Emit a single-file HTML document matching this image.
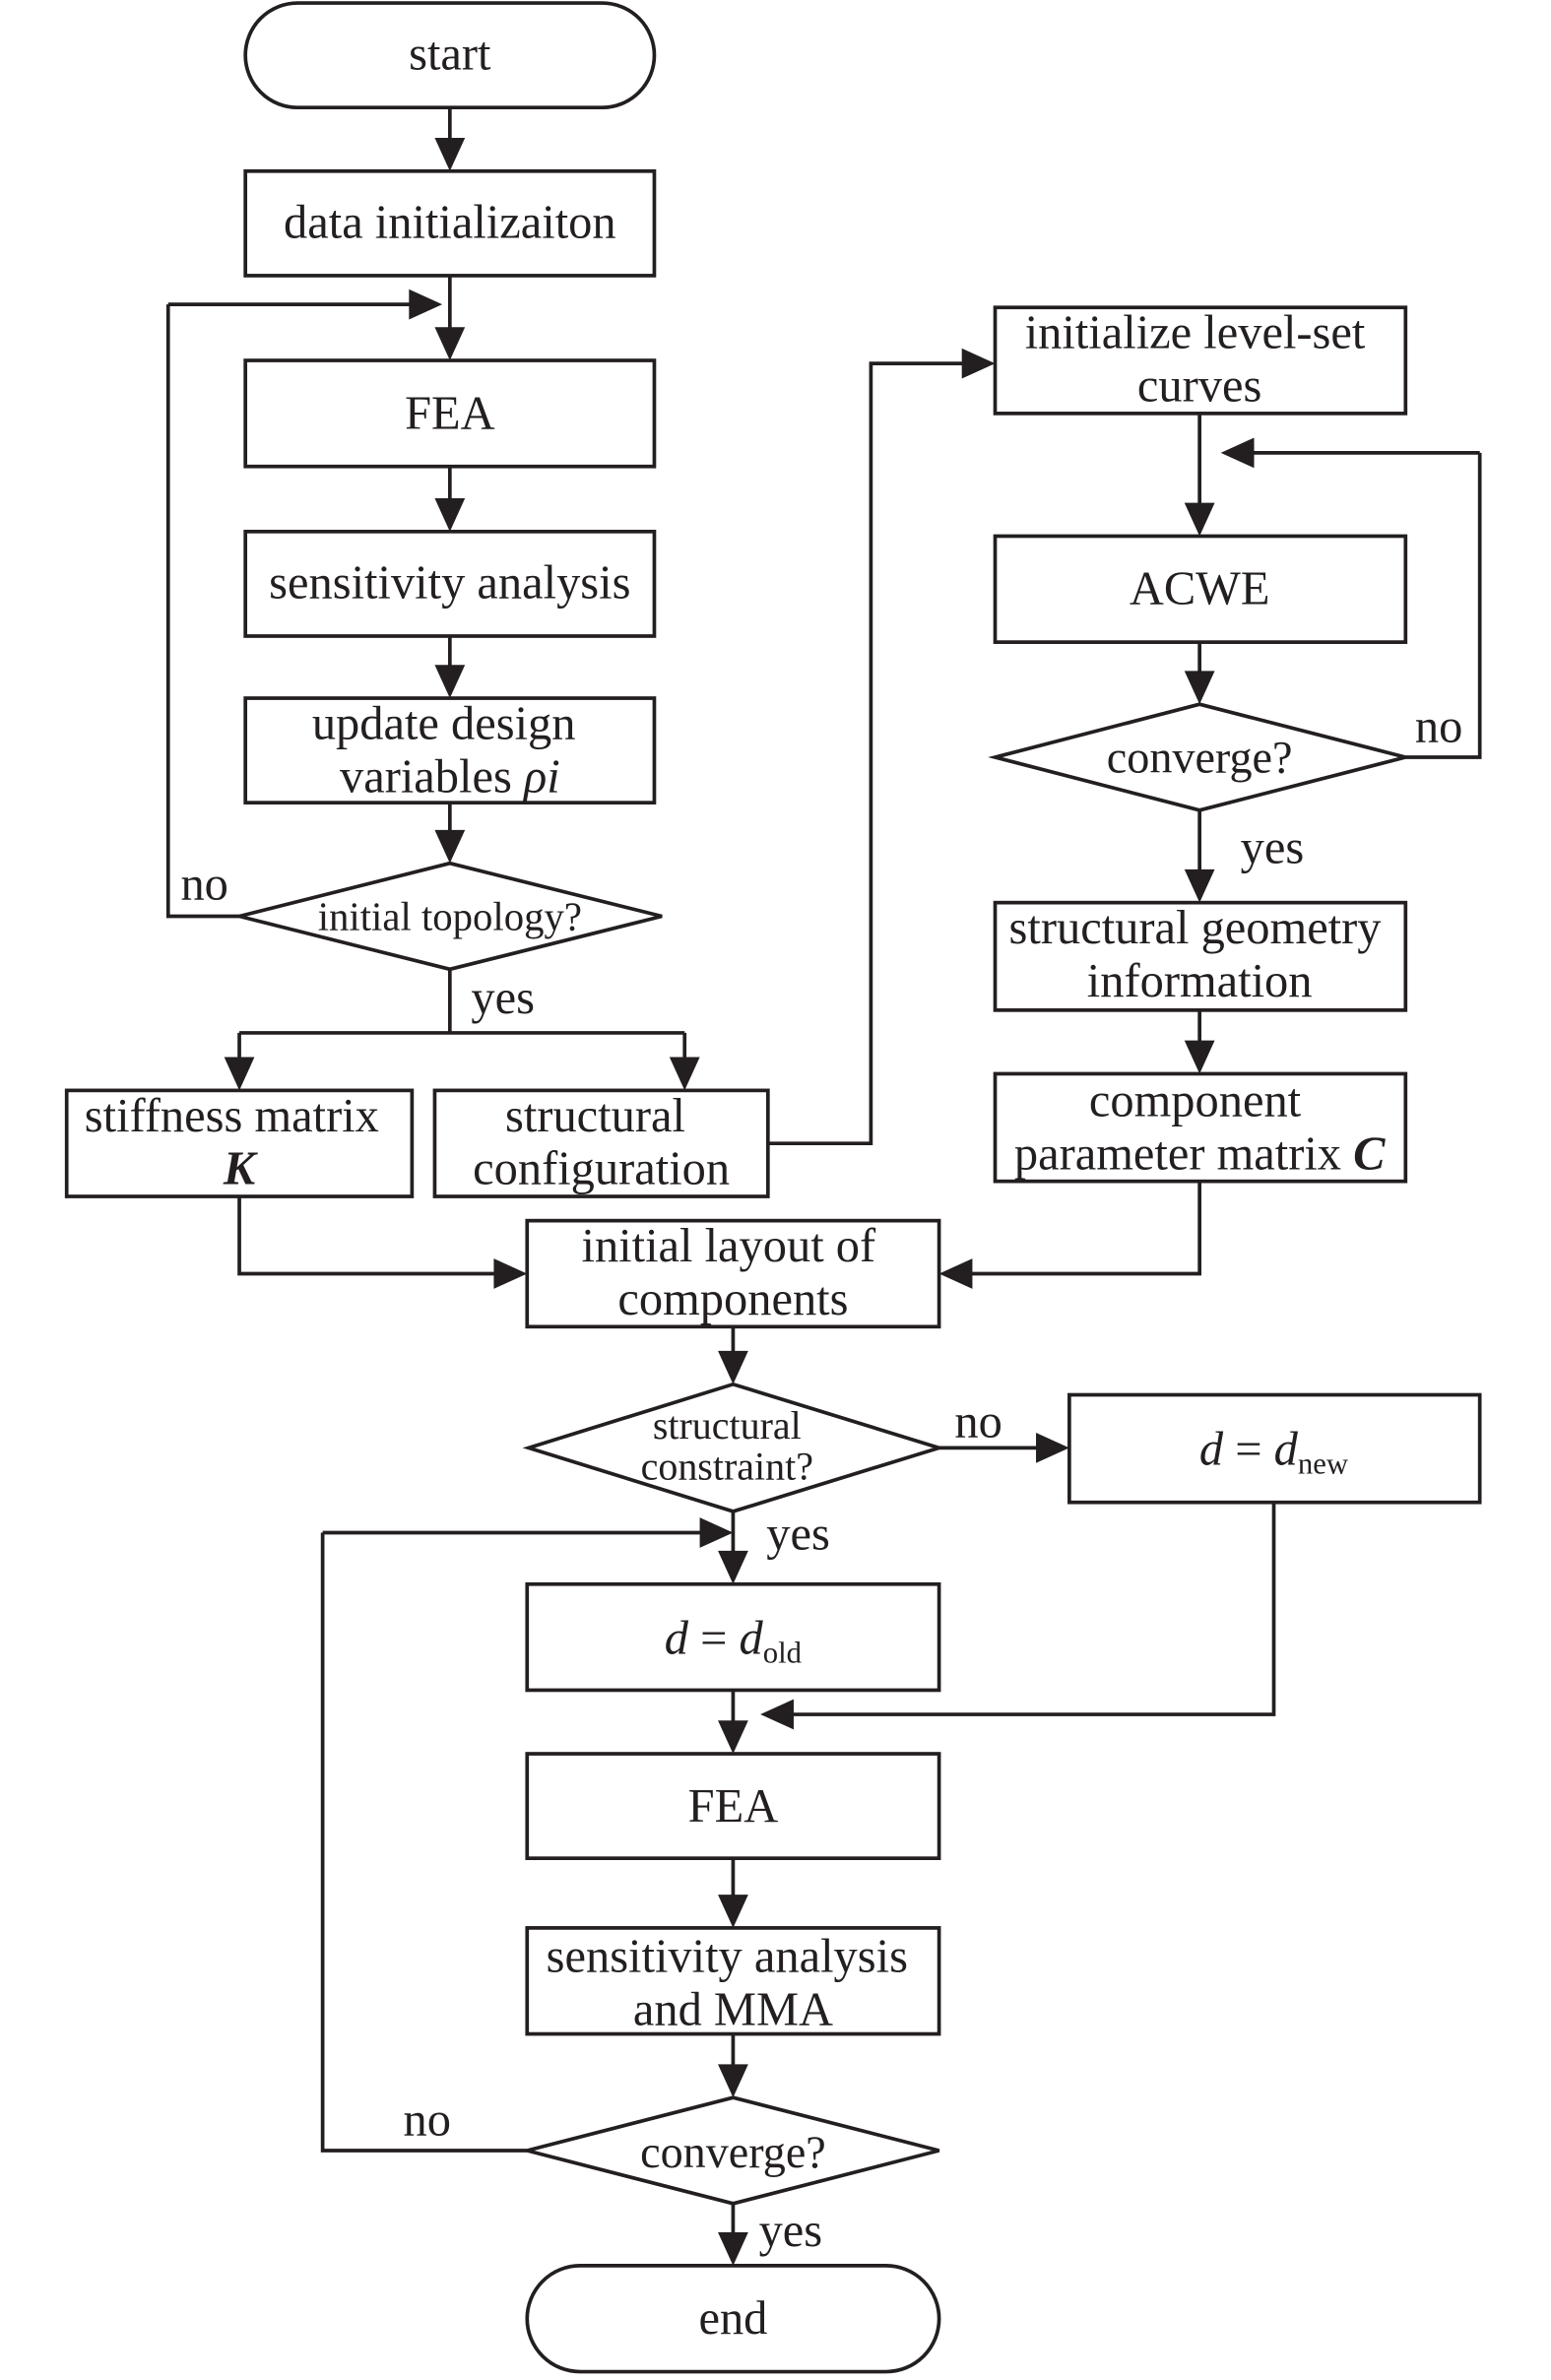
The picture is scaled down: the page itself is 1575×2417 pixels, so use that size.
<!DOCTYPE html>
<html><head><meta charset="utf-8"><style>
html,body{margin:0;padding:0;background:#fff;}
svg{display:block;}
text{font-family:"Liberation Serif",serif;fill:#231f20;text-anchor:middle;}
</style></head><body>
<svg width="1575" height="2417" viewBox="0 0 1024 1571.5" xmlns="http://www.w3.org/2000/svg">
<g fill="none" stroke="#231f20" stroke-width="2.4">
<rect x="162" y="2" width="270" height="69" rx="34.5"/>
<rect x="162" y="113" width="270" height="69"/>
<rect x="162" y="238" width="270" height="70"/>
<rect x="162" y="351" width="270" height="69"/>
<rect x="162" y="461" width="270" height="69"/>
<polygon points="158,605 297,570 437,605 297,640"/>
<rect x="44" y="720" width="228" height="70"/>
<rect x="287" y="720" width="220" height="70"/>
<rect x="657" y="203" width="271" height="70"/>
<rect x="657" y="354" width="271" height="70"/>
<polygon points="657,500 792,465 928,500 792,535"/>
<rect x="657" y="596" width="271" height="71"/>
<rect x="657" y="709" width="271" height="71"/>
<rect x="348" y="806" width="272" height="70"/>
<polygon points="349,956 484,914 620,956 484,998"/>
<rect x="706" y="921" width="271" height="71"/>
<rect x="348" y="1046" width="272" height="70"/>
<rect x="348" y="1158" width="272" height="69"/>
<rect x="348" y="1273" width="272" height="70"/>
<polygon points="348,1420 484,1385 620,1420 484,1455"/>
<rect x="348" y="1496" width="272" height="70" rx="35"/>
<path d="M297 71V100 M297 182V225 M111 201H275 M297 308V338 M297 420V448 M297 530V557"/>
<path d="M158 605H111V201"/>
<path d="M297 640V682 M158 682H452 M158 682V707 M452 682V707"/>
<path d="M507 755H575V240H644"/>
<path d="M792 273V341 M977 299H819 M792 424V452 M928 500H977V299 M792 535V583 M792 667V696"/>
<path d="M792 780V841H633 M158 790V841H335"/>
<path d="M484 876V901 M620 956H693 M484 998V1033 M213 1012H471 M213 1012V1420H348"/>
<path d="M484 1116V1145 M841 992V1132H515"/>
<path d="M484 1227V1260 M484 1343V1372 M484 1455V1483"/>
</g>
<g fill="#231f20">
<polygon points="287,91 307,91 297,113"/>
<polygon points="287,216 307,216 297,238"/>
<polygon points="270,191 270,211 292,201"/>
<polygon points="287,329 307,329 297,351"/>
<polygon points="287,439 307,439 297,461"/>
<polygon points="287,548 307,548 297,570"/>
<polygon points="148,698 168,698 158,720"/>
<polygon points="442,698 462,698 452,720"/>
<polygon points="635,230 635,250 657,240"/>
<polygon points="782,332 802,332 792,354"/>
<polygon points="806,299 828,289 828,309"/>
<polygon points="782,443 802,443 792,465"/>
<polygon points="782,574 802,574 792,596"/>
<polygon points="782,687 802,687 792,709"/>
<polygon points="326,831 326,851 348,841"/>
<polygon points="620,841 642,831 642,851"/>
<polygon points="474,892 494,892 484,914"/>
<polygon points="684,946 684,966 706,956"/>
<polygon points="462,1002 462,1022 484,1012"/>
<polygon points="474,1024 494,1024 484,1046"/>
<polygon points="502,1132 524,1122 524,1142"/>
<polygon points="474,1136 494,1136 484,1158"/>
<polygon points="474,1251 494,1251 484,1273"/>
<polygon points="474,1363 494,1363 484,1385"/>
<polygon points="474,1474 494,1474 484,1496"/>
</g>
<g font-size="31.5">
<text x="297" y="46">start</text>
<text x="297" y="157">data initializaiton</text>
<text x="297" y="283">FEA</text>
<text x="297" y="395">sensitivity analysis</text>
<text x="293" y="488">update design</text>
<text x="297" y="523">variables <tspan font-style="italic">ρi</tspan></text>
<text x="297" y="614" font-size="26.5">initial topology?</text>
<text x="135" y="594">no</text>
<text x="332" y="669">yes</text>
<text x="153" y="747">stiffness matrix</text>
<text x="158" y="782" font-weight="bold" font-style="italic">K</text>
<text x="393" y="747">structural</text>
<text x="397" y="782">configuration</text>
<text x="789" y="230">initialize level-set</text>
<text x="792" y="265">curves</text>
<text x="792" y="399">ACWE</text>
<text x="792" y="510" font-size="30">converge?</text>
<text x="950" y="490">no</text>
<text x="840" y="570">yes</text>
<text x="789" y="623">structural geometry</text>
<text x="792" y="658">information</text>
<text x="789" y="737">component</text>
<text x="792" y="772">parameter matrix <tspan font-weight="bold" font-style="italic">C</tspan></text>
<text x="481" y="833">initial layout of</text>
<text x="484" y="868">components</text>
<text x="480" y="950" font-size="26">structural</text>
<text x="480" y="977" font-size="26">constraint?</text>
<text x="646" y="949">no</text>
<text x="841" y="967"><tspan font-style="italic">d</tspan> = <tspan font-style="italic">d</tspan><tspan font-size="20" dy="6">new</tspan></text>
<text x="527" y="1023">yes</text>
<text x="484" y="1092"><tspan font-style="italic">d</tspan> = <tspan font-style="italic">d</tspan><tspan font-size="20" dy="6">old</tspan></text>
<text x="484" y="1203">FEA</text>
<text x="480" y="1302">sensitivity analysis</text>
<text x="484" y="1337">and MMA</text>
<text x="484" y="1431" font-size="30">converge?</text>
<text x="282" y="1410">no</text>
<text x="522" y="1483">yes</text>
<text x="484" y="1541">end</text>
</g>
</svg>
</body></html>
